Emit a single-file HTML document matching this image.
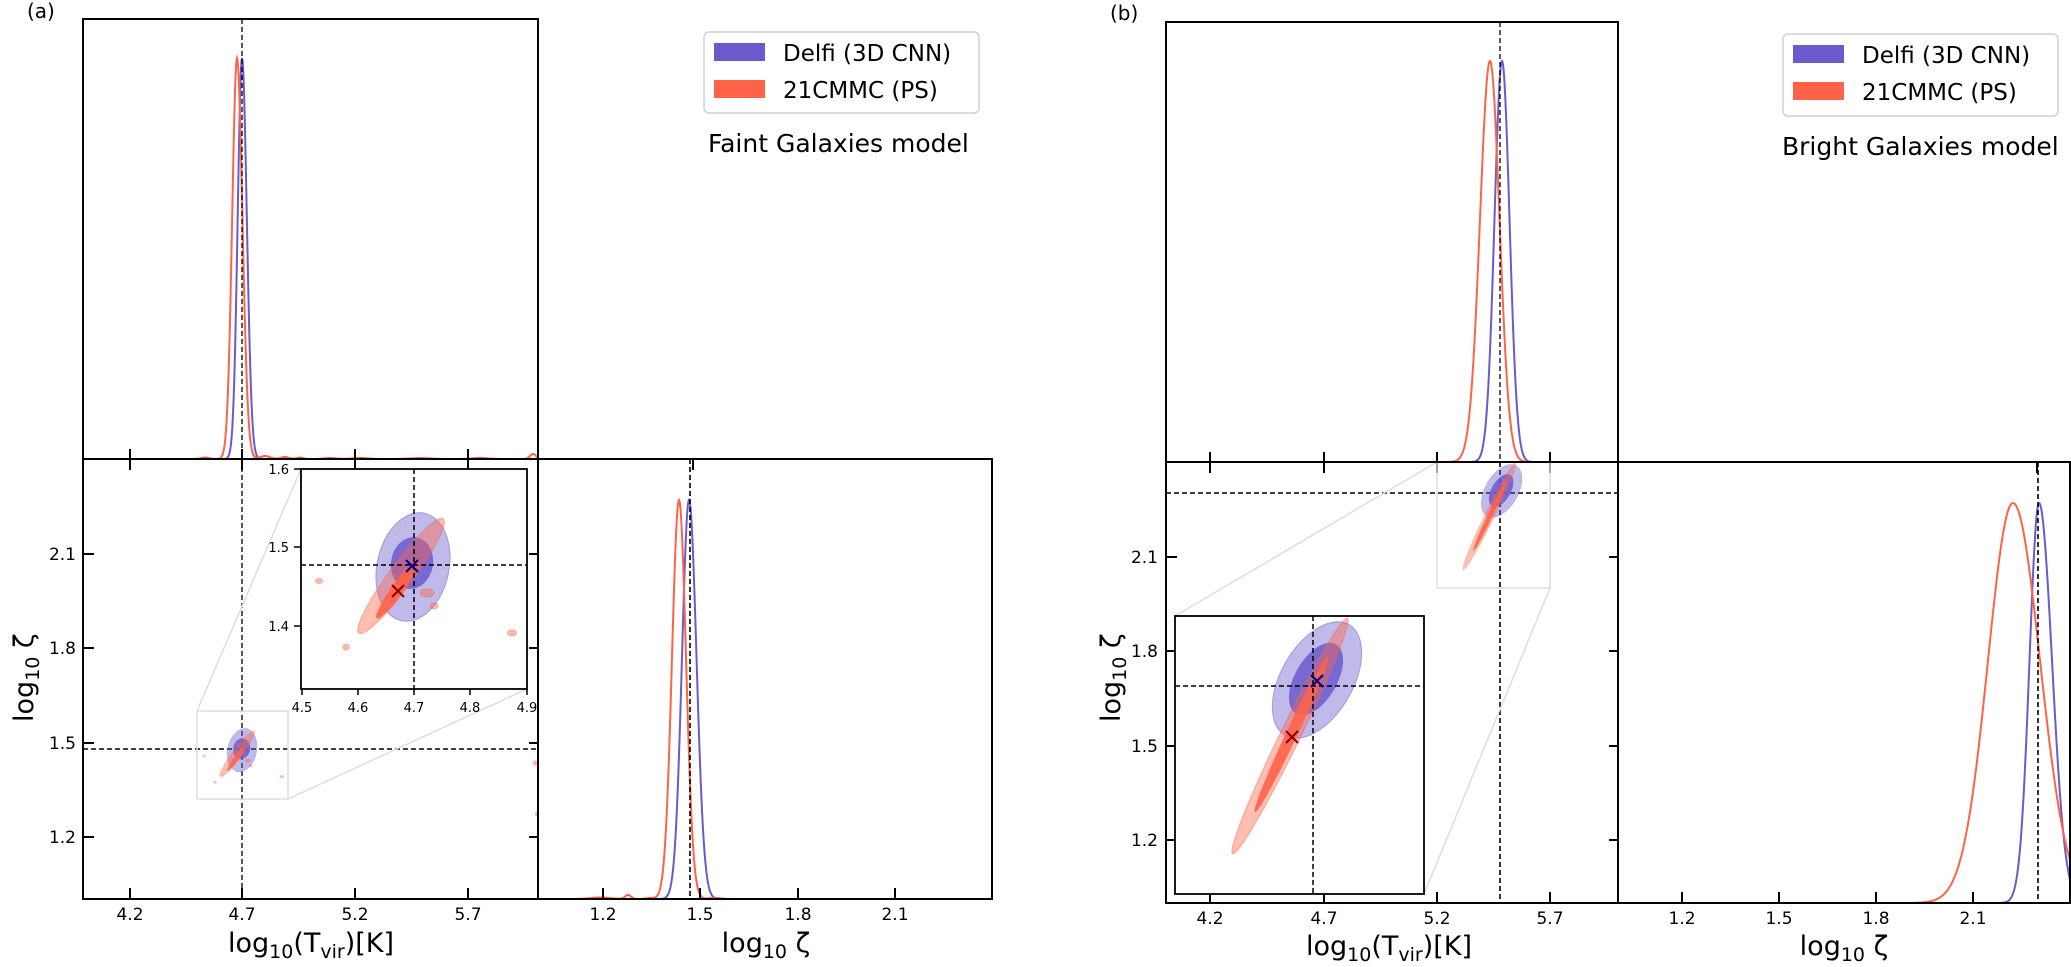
<!DOCTYPE html>
<html><head><meta charset="utf-8"><style>
html,body{margin:0;padding:0;background:#fff;}
svg{display:block;font-family:"DejaVu Sans","Liberation Sans",sans-serif;}
</style></head><body>
<svg id="s" width="2071" height="967" viewBox="0 0 2071 967" xmlns="http://www.w3.org/2000/svg">
<defs>
<clipPath id="cpa"><rect x="301" y="469" width="226" height="220"/></clipPath>
<clipPath id="cpb"><rect x="1175" y="616" width="249" height="278"/></clipPath>
<clipPath id="cpaR"><rect x="538" y="459" width="454" height="440"/></clipPath>
<clipPath id="cpbR"><rect x="1618" y="462" width="452" height="441"/></clipPath>
<clipPath id="cpaT"><rect x="83" y="19" width="455" height="440"/></clipPath>
<clipPath id="cpbT"><rect x="1166" y="22" width="452" height="440"/></clipPath>
<clipPath id="cpaM"><rect x="83" y="459" width="455" height="440"/></clipPath>
<clipPath id="cpbM"><rect x="1166" y="462" width="452" height="441"/></clipPath>
<g id="contA">
 <ellipse cx="413" cy="567" rx="36" ry="55" transform="rotate(12 413 567)" fill="#6a5acd" fill-opacity="0.42" stroke="#6a5acd" stroke-opacity="0.5"/>
 <ellipse cx="412" cy="563" rx="21" ry="26" transform="rotate(10 412 563)" fill="#6a5acd" fill-opacity="0.85"/>
 <ellipse cx="401" cy="576" rx="71" ry="12" transform="rotate(-53.6 401 576)" fill="#ff6347" fill-opacity="0.42" stroke="#ff6347" stroke-opacity="0.5"/>
 <ellipse cx="397.5" cy="589" rx="36" ry="6" transform="rotate(-54.7 397.5 589)" fill="#ff6347" fill-opacity="0.9"/>
 <g fill="#ff6347" fill-opacity="0.42" stroke="#ff6347" stroke-opacity="0.5">
  <ellipse cx="319" cy="581" rx="3.5" ry="2.5"/><ellipse cx="346" cy="647" rx="3" ry="3"/>
  <ellipse cx="512" cy="633" rx="4.5" ry="3"/><ellipse cx="434" cy="606" rx="4" ry="3"/>
  <ellipse cx="427" cy="593" rx="7" ry="4"/>
 </g>
</g>
<g id="contB">
 <ellipse cx="1317" cy="680" rx="64" ry="36" transform="rotate(-60 1317 680)" fill="#6a5acd" fill-opacity="0.42" stroke="#6a5acd" stroke-opacity="0.5"/>
 <ellipse cx="1316" cy="679" rx="40" ry="21" transform="rotate(-60 1316 679)" fill="#6a5acd" fill-opacity="0.85"/>
 <ellipse cx="1290" cy="736" rx="131" ry="10" transform="rotate(-64 1290 736)" fill="#ff6347" fill-opacity="0.42" stroke="#ff6347" stroke-opacity="0.5"/>
 <ellipse cx="1291.5" cy="734.5" rx="86" ry="5.5" transform="rotate(-64.8 1291.5 734.5)" fill="#ff6347" fill-opacity="0.9"/>
</g>
</defs>

<!-- ========== PANEL A ========== -->
<text x="27" y="18" font-size="20">(a)</text>
<g clip-path="url(#cpaT)"><path id="aT_b" fill="none" stroke="#6a5acd" stroke-width="2"/><path id="aT_r" fill="none" stroke="#ff6347" stroke-width="2"/></g>
<line x1="242" y1="19" x2="242" y2="459" stroke="#000" stroke-width="1.3" stroke-dasharray="5,3"/>
<rect x="83" y="19" width="455" height="440" fill="none" stroke="#000" stroke-width="2"/>
<g stroke="#000" stroke-width="2"><line x1="130" y1="449" x2="130" y2="470"/><line x1="242" y1="449" x2="242" y2="470"/><line x1="355" y1="449" x2="355" y2="470"/><line x1="468" y1="449" x2="468" y2="470"/><line x1="693" y1="459" x2="693" y2="470"/></g>

<line x1="242" y1="459" x2="242" y2="899" stroke="#000" stroke-width="1.3" stroke-dasharray="5,3"/>
<line x1="83" y1="749" x2="538" y2="749" stroke="#000" stroke-width="1.6" stroke-dasharray="5,3"/>
<g clip-path="url(#cpaM)">
 <use href="#contA" transform="translate(197 711) scale(0.4027 0.4) translate(-301 -469)"/>
 <ellipse cx="535" cy="763" rx="2.5" ry="2.5" fill="#ff6347" fill-opacity="0.5"/>
 <ellipse cx="537" cy="814" rx="2" ry="2" fill="#ff6347" fill-opacity="0.5"/>
</g>
<rect x="197" y="711" width="91" height="88" fill="none" stroke="#ddd" stroke-width="1.5"/>
<line x1="197" y1="711" x2="301" y2="469" stroke="#ddd" stroke-width="1.5"/>
<line x1="288" y1="799" x2="527" y2="689" stroke="#ddd" stroke-width="1.5"/>
<rect x="83" y="459" width="455" height="440" fill="none" stroke="#000" stroke-width="2"/>
<g stroke="#000" stroke-width="2">
 <line x1="130" y1="888" x2="130" y2="899"/><line x1="242" y1="888" x2="242" y2="899"/><line x1="355" y1="888" x2="355" y2="899"/><line x1="468" y1="888" x2="468" y2="899"/>
 <line x1="83" y1="554" x2="94" y2="554"/><line x1="83" y1="648" x2="94" y2="648"/><line x1="83" y1="743" x2="94" y2="743"/><line x1="83" y1="837" x2="94" y2="837"/>
 <line x1="529" y1="554" x2="538" y2="554"/><line x1="529" y1="648" x2="538" y2="648"/><line x1="529" y1="743" x2="538" y2="743"/><line x1="529" y1="837" x2="538" y2="837"/>
</g>
<g font-size="17" text-anchor="middle"><text x="130" y="920">4.2</text><text x="242" y="920">4.7</text><text x="355" y="920">5.2</text><text x="468" y="920">5.7</text></g>
<g font-size="17" text-anchor="end"><text x="76" y="560">2.1</text><text x="76" y="654">1.8</text><text x="76" y="749">1.5</text><text x="76" y="843">1.2</text></g>
<text x="311" y="952" font-size="27" text-anchor="middle">log<tspan font-size="19" dy="6">10</tspan><tspan dy="-6">(T</tspan><tspan font-size="19" dy="6">vir</tspan><tspan dy="-6">)[K]</tspan></text>
<text transform="translate(33 722) rotate(-90)" font-size="27">log<tspan font-size="19" dy="6">10</tspan><tspan dy="-6"> ζ</tspan></text>

<rect x="301" y="469" width="226" height="220" fill="#fff"/>
<g clip-path="url(#cpa)">
 <use href="#contA"/>
 <line x1="414" y1="469" x2="414" y2="689" stroke="#000" stroke-width="1.5" stroke-dasharray="5,3"/>
 <line x1="301" y1="565" x2="527" y2="565" stroke="#000" stroke-width="1.5" stroke-dasharray="5,3"/>
 <path d="M392 585 L404 597 M404 585 L392 597" stroke="#8b0000" stroke-width="2"/>
 <path d="M406 560 L418 572 M418 560 L406 572" stroke="#00008b" stroke-width="2.2"/>
</g>
<rect x="301" y="469" width="226" height="220" fill="none" stroke="#000" stroke-width="1.8"/>
<g stroke="#000" stroke-width="1.5">
 <line x1="302" y1="689" x2="302" y2="695"/><line x1="358" y1="689" x2="358" y2="695"/><line x1="414" y1="689" x2="414" y2="695"/><line x1="470" y1="689" x2="470" y2="695"/><line x1="527" y1="689" x2="527" y2="695"/>
 <line x1="294" y1="469" x2="301" y2="469"/><line x1="294" y1="547" x2="301" y2="547"/><line x1="294" y1="626" x2="301" y2="626"/>
</g>
<g font-size="13" text-anchor="middle"><text x="302" y="712">4.5</text><text x="358" y="712">4.6</text><text x="414" y="712">4.7</text><text x="470" y="712">4.8</text><text x="527" y="712">4.9</text></g>
<g font-size="13" text-anchor="end"><text x="289" y="474">1.6</text><text x="289" y="552">1.5</text><text x="289" y="631">1.4</text></g>

<g clip-path="url(#cpaR)"><path id="aR_b" fill="none" stroke="#6a5acd" stroke-width="2"/><path id="aR_r" fill="none" stroke="#ff6347" stroke-width="2"/></g>
<line x1="690" y1="459" x2="690" y2="899" stroke="#000" stroke-width="1.6" stroke-dasharray="5,3"/>
<rect x="538" y="459" width="454" height="440" fill="none" stroke="#000" stroke-width="2"/>
<g stroke="#000" stroke-width="2"><line x1="603" y1="888" x2="603" y2="899"/><line x1="700" y1="888" x2="700" y2="899"/><line x1="798" y1="888" x2="798" y2="899"/><line x1="895" y1="888" x2="895" y2="899"/></g>
<g font-size="17" text-anchor="middle"><text x="603" y="920">1.2</text><text x="700" y="920">1.5</text><text x="798" y="920">1.8</text><text x="895" y="920">2.1</text></g>
<text x="766" y="952" font-size="27" text-anchor="middle">log<tspan font-size="19" dy="6">10</tspan><tspan dy="-6"> ζ</tspan></text>

<rect x="704" y="32" width="275" height="81" rx="5" fill="#fff" stroke="#d0d0d0" stroke-width="1.5"/>
<rect x="714" y="43" width="51" height="18" fill="#6a5acd"/>
<rect x="714" y="80" width="51" height="18" fill="#ff6347"/>
<text x="783" y="61" font-size="23">Delfi (3D CNN)</text>
<text x="783" y="98" font-size="23">21CMMC (PS)</text>
<text x="708" y="152" font-size="25">Faint Galaxies model</text>

<!-- ========== PANEL B ========== -->
<text x="1110" y="20" font-size="20">(b)</text>
<g clip-path="url(#cpbT)"><path id="bT_b" fill="none" stroke="#6a5acd" stroke-width="2"/><path id="bT_r" fill="none" stroke="#ff6347" stroke-width="2"/></g>
<line x1="1500" y1="22" x2="1500" y2="462" stroke="#000" stroke-width="1.3" stroke-dasharray="5,3"/>
<rect x="1166" y="22" width="452" height="440" fill="none" stroke="#000" stroke-width="2"/>
<g stroke="#000" stroke-width="2"><line x1="1210" y1="452" x2="1210" y2="473"/><line x1="1324" y1="452" x2="1324" y2="473"/><line x1="1437" y1="452" x2="1437" y2="473"/><line x1="1550" y1="452" x2="1550" y2="473"/><line x1="2037" y1="462" x2="2037" y2="473"/></g>

<line x1="1500" y1="462" x2="1500" y2="903" stroke="#000" stroke-width="1.6" stroke-dasharray="5,3"/>
<line x1="1166" y1="493" x2="1618" y2="493" stroke="#000" stroke-width="1.6" stroke-dasharray="5,3"/>
<g clip-path="url(#cpbM)">
 <use href="#contB" transform="translate(1437 462) scale(0.455 0.453) translate(-1175 -616)"/>
</g>
<rect x="1437" y="462" width="113" height="126" fill="none" stroke="#ddd" stroke-width="1.5"/>
<line x1="1437" y1="462" x2="1175" y2="616" stroke="#ddd" stroke-width="1.5"/>
<line x1="1550" y1="588" x2="1424" y2="894" stroke="#ddd" stroke-width="1.5"/>
<rect x="1166" y="462" width="452" height="441" fill="none" stroke="#000" stroke-width="2"/>
<g stroke="#000" stroke-width="2">
 <line x1="1210" y1="892" x2="1210" y2="903"/><line x1="1324" y1="892" x2="1324" y2="903"/><line x1="1437" y1="892" x2="1437" y2="903"/><line x1="1550" y1="892" x2="1550" y2="903"/>
 <line x1="1166" y1="557" x2="1177" y2="557"/><line x1="1166" y1="651" x2="1177" y2="651"/><line x1="1166" y1="746" x2="1177" y2="746"/><line x1="1166" y1="840" x2="1177" y2="840"/>
 <line x1="1609" y1="557" x2="1618" y2="557"/><line x1="1609" y1="651" x2="1618" y2="651"/><line x1="1609" y1="746" x2="1618" y2="746"/><line x1="1609" y1="840" x2="1618" y2="840"/>
</g>
<g font-size="17" text-anchor="middle"><text x="1210" y="924">4.2</text><text x="1324" y="924">4.7</text><text x="1437" y="924">5.2</text><text x="1550" y="924">5.7</text></g>
<g font-size="17" text-anchor="end"><text x="1158" y="563">2.1</text><text x="1158" y="657">1.8</text><text x="1158" y="752">1.5</text><text x="1158" y="846">1.2</text></g>
<text x="1389" y="955" font-size="27" text-anchor="middle">log<tspan font-size="19" dy="6">10</tspan><tspan dy="-6">(T</tspan><tspan font-size="19" dy="6">vir</tspan><tspan dy="-6">)[K]</tspan></text>
<text transform="translate(1120 722) rotate(-90)" font-size="27">log<tspan font-size="19" dy="6">10</tspan><tspan dy="-6"> ζ</tspan></text>

<rect x="1175" y="616" width="249" height="278" fill="#fff"/>
<g clip-path="url(#cpb)">
 <use href="#contB"/>
 <line x1="1313" y1="616" x2="1313" y2="894" stroke="#000" stroke-width="1.5" stroke-dasharray="5,3"/>
 <line x1="1175" y1="686" x2="1424" y2="686" stroke="#000" stroke-width="1.5" stroke-dasharray="5,3"/>
 <path d="M1286 731 L1298 743 M1298 731 L1286 743" stroke="#8b0000" stroke-width="2"/>
 <path d="M1311 675 L1323 687 M1323 675 L1311 687" stroke="#00008b" stroke-width="2.2"/>
</g>
<rect x="1175" y="616" width="249" height="278" fill="none" stroke="#000" stroke-width="1.8"/>

<g clip-path="url(#cpbR)"><path id="bR_b" fill="none" stroke="#6a5acd" stroke-width="2"/><path id="bR_r" fill="none" stroke="#ff6347" stroke-width="2"/></g>
<line x1="2038" y1="462" x2="2038" y2="903" stroke="#000" stroke-width="1.6" stroke-dasharray="5,3"/>
<rect x="1618" y="462" width="452" height="441" fill="none" stroke="#000" stroke-width="2"/>
<g stroke="#000" stroke-width="2"><line x1="1682" y1="892" x2="1682" y2="903"/><line x1="1779" y1="892" x2="1779" y2="903"/><line x1="1876" y1="892" x2="1876" y2="903"/><line x1="1973" y1="892" x2="1973" y2="903"/></g>
<g font-size="17" text-anchor="middle"><text x="1682" y="924">1.2</text><text x="1779" y="924">1.5</text><text x="1876" y="924">1.8</text><text x="1973" y="924">2.1</text></g>
<text x="1844" y="955" font-size="27" text-anchor="middle">log<tspan font-size="19" dy="6">10</tspan><tspan dy="-6"> ζ</tspan></text>

<rect x="1783" y="34" width="275" height="82" rx="5" fill="#fff" stroke="#d0d0d0" stroke-width="1.5"/>
<rect x="1793" y="45" width="51" height="18" fill="#6a5acd"/>
<rect x="1793" y="82" width="51" height="18" fill="#ff6347"/>
<text x="1862" y="63" font-size="23">Delfi (3D CNN)</text>
<text x="1862" y="100" font-size="23">21CMMC (PS)</text>
<text x="1782" y="155" font-size="25">Bright Galaxies model</text>
</svg>
<script>
function g(x0,x1,base,h,mu,sl,sr,extra){
  var d="";
  for(var x=x0;x<=x1;x+=0.5){
    var s=x<mu?sl:sr;
    var y=base-h*Math.exp(-(x-mu)*(x-mu)/(2*s*s));
    if(extra) y-=extra(x);
    d+=(d?"L":"M")+x.toFixed(1)+" "+y.toFixed(2);
  }
  return d;
}
function bumps(list){return function(x){var v=0;for(var i=0;i<list.length;i++){var b=list[i];v+=b[1]*Math.exp(-(x-b[0])*(x-b[0])/(2*b[2]*b[2]));}return v;};}
function set(id,d){document.getElementById(id).setAttribute("d",d);}
set("aT_b",g(83,538,459,401,242,4.3,4.8));
set("aT_r",g(83,538,459,401,237,4.8,5.4,bumps([[205,1.5,4],[265,3,5],[285,2,4],[300,1.5,3],[330,1,6],[360,1,8],[420,1,10],[480,1,8],[533,5,3]])));
set("aR_b",g(538,992,899,399,689,7,7.5));
set("aR_r",g(538,992,899,399,679,7,7,bumps([[600,1.5,10],[628,4,3],[650,1,4],[715,1,6]])));
set("bT_b",g(1166,1618,462,401,1502,7.5,7.5));
set("bT_r",g(1166,1618,462,401,1490,10,9.5));
set("bR_b",g(1618,2070,903,400,2039,9.5,13));
set("bR_r",g(1618,2070,903,400,2013,25,27));
</script>
</body></html>
